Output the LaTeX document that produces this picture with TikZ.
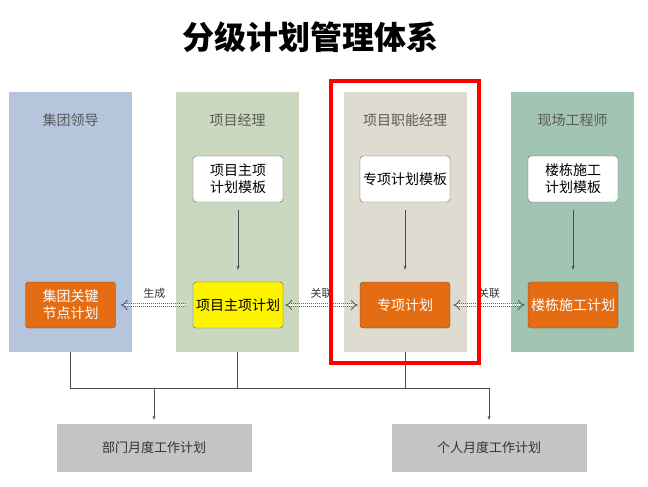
\documentclass[tikz,border=0pt]{standalone}
\usepackage{fontspec}
\setmainfont{Noto Sans CJK SC}
\usetikzlibrary{arrows.meta,positioning,fit}
\definecolor{leadblue}{HTML}{B4C5DC}
\definecolor{pmgreen}{HTML}{C9D8BE}
\definecolor{funcbeige}{HTML}{DEDBD0}
\definecolor{siteteal}{HTML}{A2C4B2}
\definecolor{planorange}{HTML}{E46C12}
\definecolor{planyellow}{HTML}{FFF400}
\definecolor{monthgray}{HTML}{C4C4C4}
\definecolor{inkgray}{HTML}{5A5A5A}
\tikzset{lane/.style={minimum width=123pt,minimum height=260pt,inner sep=0},head/.style={font=\fontsize{14}{16}\selectfont,text=inkgray},tpl/.style={draw=black!65,fill=white,rounded corners=3pt,minimum width=90pt,minimum height=46pt,align=center,font=\fontsize{14}{17}\selectfont,inner sep=2pt},plan/.style={tpl,fill=planorange,text=white}}
\begin{document}
\begin{tikzpicture}[x=1pt,y=-1pt,link/.style={draw=black!70,line width=0.8pt},flowarr/.style={link,-{Stealth[length=4pt,width=3pt]},shorten <=8pt,shorten >=12pt},rel/.style={draw=black!60,line width=1pt,double=white,double distance=2.6pt,dash pattern=on 1pt off 1pt},lbl/.style={font=\fontsize{11}{13}\selectfont,text=black!80,above=3pt},month/.style={fill=monthgray,draw=white,minimum width=196pt,minimum height=49pt,font=\fontsize{13}{15}\selectfont,text=black!80}]
\useasboundingbox (0,0) rectangle (648,487);
\node[font=\bfseries\fontsize{32}{36}\selectfont] (title) at (310,37) {分级计划管理体系};
% four lanes
\node[lane,fill=leadblue] (c1) at (70.5,222) {};
\node[lane,fill=pmgreen] (c2) at (237.5,222) {};
\node[lane,fill=funcbeige] (c3) at (405,222) {};
\node[lane,fill=siteteal] (c4) at (572.5,222) {};
\node[head] (h1) at (70.5,120) {集团领导};
\node[head] (h2) at (237.5,120) {项目经理};
\node[head] (h3) at (405,120) {项目职能经理};
\node[head] (h4) at (572.5,120) {现场工程师};
% templates and plans
\node[tpl] (t2) at (238,179) {项目主项\\计划模板};
\node[tpl] (t3) at (405,179) {专项计划模板};
\node[tpl] (t4) at (573,179) {楼栋施工\\计划模板};
\node[plan] (p1) at (70.5,305) {集团关键\\节点计划};
\node[plan,fill=planyellow,text=black] (p2) at (238,305) {项目主项计划};
\node[plan] (p3) at (405,305) {专项计划};
\node[plan] (p4) at (573,305) {楼栋施工计划};
\draw[flowarr] (t2)--(p2);\draw[flowarr] (t3)--(p3);\draw[flowarr] (t4)--(p4);
\draw[rel,-{Implies},shorten <=7pt,shorten >=5pt] (p2.west)--node[lbl]{生成}(p1.east);
\draw[rel,{Implies}-{Implies},shorten <=2pt,shorten >=2pt] (p2.east)--node[lbl]{关联}(p3.west);
\draw[rel,{Implies}-{Implies},shorten <=3pt,shorten >=3pt] (p3.east)--node[lbl]{关联}(p4.west);
% monthly plans
\node[month] (b1) at (154,447.5) {部门月度工作计划};
\node[month] (b2) at (489,447.5) {个人月度工作计划};
\coordinate (bus) at (0,388);
\draw[link] (c1.south)|-(b2.north|-bus);\draw[link] (c2.south)--(c2.south|-bus);\draw[link] (c3.south)--(c3.south|-bus);
\draw[link,-{Stealth[length=4pt,width=3pt]},shorten >=3pt] (b1.north|-bus)--(b1.north);
\draw[link,-{Stealth[length=4pt,width=3pt]},shorten >=3pt] (b2.north|-bus)--(b2.north);
\node[draw=red,line width=4pt,fit=(c3),inner xsep=12pt,inner ysep=11pt] (focus) {};
\end{tikzpicture}
\end{document}
